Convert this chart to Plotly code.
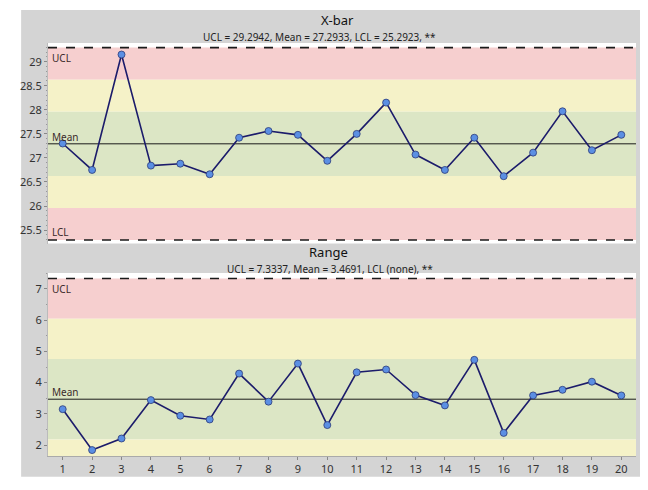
import plotly.graph_objects as go
from plotly.subplots import make_subplots

samples = list(range(1, 21))
xbar = [27.30, 26.75, 29.15, 26.84, 26.88, 26.66, 27.42, 27.56, 27.48, 26.94,
        27.50, 28.15, 27.07, 26.75, 27.42, 26.62, 27.11, 27.97, 27.16, 27.48]
ranges = [3.15, 1.84, 2.21, 3.44, 2.94, 2.82, 4.29, 3.39, 4.61, 2.64,
          4.33, 4.42, 3.60, 3.27, 4.73, 2.39, 3.59, 3.77, 4.03, 3.59]

xbar_ucl, xbar_mean, xbar_lcl = 29.2942, 27.2933, 25.2923
r_ucl, r_mean = 7.3337, 3.4691

xbar_range = [25.22, 29.39]
r_range = [1.65, 7.51]

RED = "#f6cfcf"
YELLOW = "#f5f2c8"
GREEN = "#dce6c5"
FONT = "Noto Sans"

fig = make_subplots(rows=2, cols=1)

line_style = dict(color="#1c1c6b", width=1.6)
marker_style = dict(size=7, color="#5b8fe3", line=dict(color="#2b3a78", width=0.8))

fig.add_trace(go.Scatter(x=samples, y=xbar, mode="lines+markers",
                         line=line_style, marker=marker_style, showlegend=False),
              row=1, col=1)
fig.add_trace(go.Scatter(x=samples, y=ranges, mode="lines+markers",
                         line=line_style, marker=marker_style, showlegend=False),
              row=2, col=1)

# gray panel behind everything
fig.add_shape(type="rect", xref="paper", yref="paper", x0=-0.0457, x1=1.008,
              y0=-0.05, y1=1.08, fillcolor="#d4d4d4", line_width=0, layer="below")
# white plot areas
for xr, yr in [("x", "y"), ("x2", "y2")]:
    fig.add_shape(type="rect", xref=xr + " domain", yref=yr + " domain",
                  x0=0, x1=1, y0=0, y1=1, fillcolor="white", line_width=0,
                  layer="below")


def bands(xref, yref, mean, ucl, lo):
    s = (ucl - mean) / 3
    edges = [ucl, mean + 2 * s, mean + s, mean - s, mean - 2 * s, mean - 3 * s]
    cols = [RED, YELLOW, GREEN, YELLOW, RED]
    for i, c in enumerate(cols):
        top, bot = edges[i], max(edges[i + 1], lo)
        if top <= lo:
            continue
        fig.add_shape(type="rect", xref=xref + " domain", yref=yref,
                      x0=0, x1=1, y0=bot, y1=top, fillcolor=c,
                      line_width=0, layer="below")


bands("x", "y", xbar_mean, xbar_ucl, xbar_range[0])
bands("x2", "y2", r_mean, r_ucl, r_range[0])

for xr, yr, val, dash, w in [("x", "y", xbar_ucl, "dash", 1.6),
                             ("x", "y", xbar_lcl, "dash", 1.6),
                             ("x", "y", xbar_mean, "solid", 1),
                             ("x2", "y2", r_ucl, "dash", 1.6),
                             ("x2", "y2", r_mean, "solid", 1)]:
    fig.add_shape(type="line", xref=xr + " domain", yref=yr, x0=0, x1=1,
                  y0=val, y1=val, line=dict(color="#1a1a1a", width=w, dash=dash),
                  layer="below")

lab = dict(showarrow=False, font=dict(family=FONT, size=10, color="#3a2a2a"),
           xanchor="left", x=0.004)
fig.add_annotation(xref="x domain", yref="y", y=xbar_ucl, yanchor="top", text="UCL", yshift=-1, **lab)
fig.add_annotation(xref="x domain", yref="y", y=xbar_mean, yanchor="bottom", text="Mean", yshift=-2, **lab)
fig.add_annotation(xref="x domain", yref="y", y=xbar_lcl, yanchor="bottom", text="LCL", yshift=-1, **lab)
fig.add_annotation(xref="x2 domain", yref="y2", y=r_ucl, yanchor="top", text="UCL", yshift=-1, **lab)
fig.add_annotation(xref="x2 domain", yref="y2", y=r_mean, yanchor="bottom", text="Mean", yshift=-2, **lab)

# titles
ttl = dict(xref="paper", yref="paper", showarrow=False, yanchor="middle", xanchor="center")
fig.add_annotation(x=0.492, y=1.0545, text="X-bar",
                   font=dict(family=FONT, size=13, color="#111"), **ttl)
fig.add_annotation(x=0.461, y=1.0157,
                   text=f"UCL = {xbar_ucl}, Mean = {xbar_mean}, LCL = {xbar_lcl}, **",
                   font=dict(family=FONT, size=10, color="#222"), **ttl)
fig.add_annotation(x=0.477, y=0.4928, text="Range",
                   font=dict(family=FONT, size=13, color="#111"), **ttl)
fig.add_annotation(x=0.479, y=0.4535,
                   text=f"UCL = {r_ucl}, Mean = {r_mean}, LCL (none), **",
                   font=dict(family=FONT, size=10, color="#222"), **ttl)

axis_font = dict(family=FONT, size=11, color="#333")
fig.update_xaxes(range=[0.5, 20.5], showgrid=False, zeroline=False)
fig.update_xaxes(showticklabels=False, row=1, col=1)
fig.update_xaxes(tickmode="array", tickvals=samples, ticks="outside", ticklen=3,
                 tickcolor="#888", showline=True, linecolor="#aaa", linewidth=1,
                 tickfont=axis_font, row=2, col=1)
fig.update_yaxes(showgrid=False, zeroline=False, ticks="outside", ticklen=3,
                 tickcolor="#888", showline=True, linecolor="#bbb", linewidth=1,
                 tickfont=axis_font)
fig.update_yaxes(range=xbar_range, dtick=0.5, minor=dict(dtick=0.1, ticks="outside",
                 ticklen=1.5, tickcolor="#999"), row=1, col=1)
fig.update_yaxes(range=r_range, dtick=1, minor=dict(dtick=0.5, ticks="outside",
                 ticklen=1.5, tickcolor="#999"), row=2, col=1)

fig.update_layout(width=648, height=490, margin=dict(l=37, r=20, t=35, b=42),
                  paper_bgcolor="white", plot_bgcolor="white",
                  font=dict(family=FONT),
                  yaxis=dict(domain=[0.5145, 1.0]),
                  yaxis2=dict(domain=[0.0, 0.443]))

fig.write_html("out.html")
